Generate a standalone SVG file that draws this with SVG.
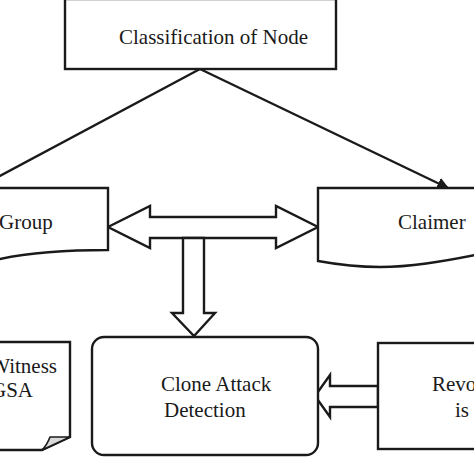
<svg xmlns="http://www.w3.org/2000/svg" width="474" height="474" viewBox="0 0 474 474">
<style>
.s{fill:#fff;stroke:#1a1a1a;stroke-width:2.4;stroke-linejoin:miter}
.l{fill:none;stroke:#1a1a1a;stroke-width:2.4}
.t{font-family:"Liberation Serif","Times New Roman",serif;font-size:21px;fill:#1a1a1a}
</style>
<defs>
<marker id="ah" viewBox="0 0 10 10" refX="9" refY="5" markerWidth="5" markerHeight="5" orient="auto" markerUnits="strokeWidth">
<path d="M0,0 L10,5 L0,10 Z" fill="#1a1a1a"/>
</marker>
</defs>
<rect width="474" height="474" fill="#fff"/>
<g id="connectors">
<line class="l" x1="200" y1="69" x2="-2" y2="177"/>
<line class="l" x1="200" y1="69" x2="448" y2="188" marker-end="url(#ah)"/>
<polygon class="s" points="108,227 150,206 150,217 276,217 276,206 318,227 276,248 276,238 150,238 150,248"/>
<polygon class="s" points="183,238 204,238 204,313 215,313 194,336 172,313 183,313"/>
<polygon class="s" points="378,386 330,386 330,375 315,396 330,417 330,407 378,407"/>
</g>
<g id="node-classification">
<rect class="s" x="65" y="-1" width="271" height="70"/>
<text class="t" x="213.5" y="44" text-anchor="middle">Classification of Node</text>
</g>
<g id="node-group">
<path class="s" d="M-5,188 H108 V250 C70,250 30,252 -5,260 Z"/>
<text class="t" x="-1" y="229">Group</text>
</g>
<g id="node-claimer">
<path class="s" d="M480,188 H318 V261 C340,265 360,267 380,267 C410,267 440,262 480,254 Z"/>
<text class="t" x="398" y="229">Claimer</text>
</g>
<g id="node-witness">
<path class="s" d="M-5,342 H70 V437 L42,450 H-5 Z"/>
<path d="M70,437 L50,437 Q47,445 42,450 Z" fill="#d9d9d9" stroke="#1a1a1a" stroke-width="1.6" stroke-linejoin="round"/>
<text class="t" x="57" y="373" text-anchor="end">Witness</text>
<text class="t" x="33" y="397" text-anchor="end">GSA</text>
</g>
<g id="node-clone">
<rect class="s" x="92" y="337" width="226" height="118" rx="12" ry="12"/>
<text class="t" x="161" y="391">Clone Attack</text>
<text class="t" x="164" y="417">Detection</text>
</g>
<g id="node-revocation">
<rect class="s" x="378" y="343" width="110" height="106"/>
<text class="t" x="432" y="391">Revocation</text>
<text class="t" x="455" y="417">is</text>
</g>
</svg>
